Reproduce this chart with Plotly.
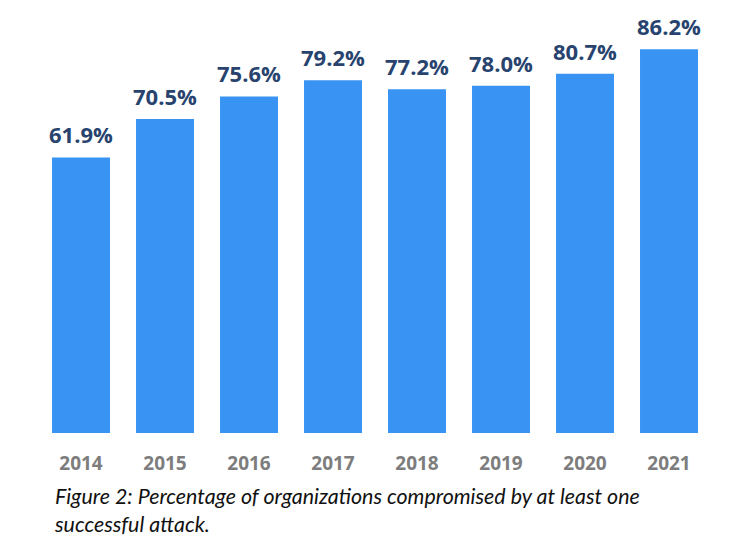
import plotly.graph_objects as go

years = ["2014", "2015", "2016", "2017", "2018", "2019", "2020", "2021"]
values = [61.9, 70.5, 75.6, 79.2, 77.2, 78.0, 80.7, 86.2]
labels = ["61.9%", "70.5%", "75.6%", "79.2%", "77.2%", "78.0%", "80.7%", "86.2%"]
caption = "Figure 2: Percentage of organizations compromised by at least one<br>successful attack."

fig = go.Figure()
fig.add_trace(go.Bar(
    x=years, y=values,
    marker=dict(color="#3893F2", line=dict(width=0)),
    width=0.69,
    hoverinfo="skip",
))

for i, (v, lab) in enumerate(zip(values, labels)):
    fig.add_annotation(
        x=i, y=v, text=lab, showarrow=False,
        xref="x", yref="y", yanchor="bottom", yshift=6,
        font=dict(family="Open Sans", size=22, color="#27436E", weight="bold"),
    )

fig.add_annotation(
    x=0.019, y=-0.114, xref="paper", yref="paper", xanchor="left", yanchor="top",
    text=caption, showarrow=False, align="left",
    font=dict(family="Lato", size=21.4, color="#111111", style="italic"),
)

fig.update_layout(
    width=740, height=547,
    margin=dict(l=39, r=29, t=10, b=114),
    paper_bgcolor="white", plot_bgcolor="white",
    showlegend=False,
    xaxis=dict(
        type="category", range=[-0.5, 7.5], showgrid=False, showline=False, zeroline=False,
        ticks="", ticklabelstandoff=17,
        tickfont=dict(family="Open Sans", size=19, color="#7D7D7D", weight="bold"),
    ),
    yaxis=dict(range=[0, 95], visible=False, showgrid=False, zeroline=False),
)

fig.write_html("out.html")
